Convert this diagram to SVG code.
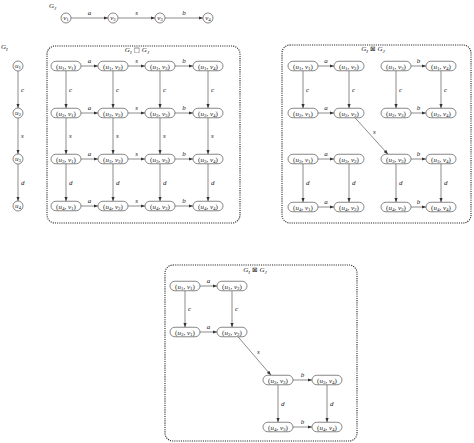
<svg xmlns="http://www.w3.org/2000/svg" width="474" height="443" viewBox="0 0 474 443">
<defs>
<marker id="ah" viewBox="0 0 8 6" refX="8" refY="3" markerWidth="4.5" markerHeight="3.4" markerUnits="userSpaceOnUse" orient="auto"><path d="M0,0 L8,3 L0,6 z" fill="#333"/></marker>
<style>
.n{fill:#fff;stroke:#555;stroke-width:0.7}
.t{font-family:"Liberation Serif","DejaVu Serif",serif;font-size:7px;fill:#222;text-anchor:middle}
.l{font-family:"Liberation Serif","DejaVu Serif",serif;font-size:7px;fill:#222;font-style:italic}
.lm{text-anchor:middle}
.i{font-style:italic}
.s{font-size:5px}
.sym{font-family:"DejaVu Sans",sans-serif;font-style:normal;font-size:6.5px}
.e{stroke:#666;stroke-width:0.75;fill:none;marker-end:url(#ah)}
.box{fill:none;stroke:#222;stroke-width:1.1;stroke-dasharray:1.1 1.1}
</style>
</defs>

<!-- titles / boxes -->
<g id="title-GJ"><text class="l" x="49" y="8">G<tspan class="s" dy="1.5">J</tspan></text></g>
<g id="title-GI"><text class="l" x="1" y="49">G<tspan class="s" dy="1.5">I</tspan></text></g>
<g id="box-cart"><rect class="box" x="47" y="46" width="193" height="177" rx="8"/><text class="t" x="137" y="52"><tspan class="i">G</tspan><tspan class="s i" dy="1.5">I</tspan><tspan class="sym" dy="-1.5"> □ </tspan><tspan class="i">G</tspan><tspan class="s i" dy="1.5">J</tspan></text></g>
<g id="box-strong"><rect class="box" x="282" y="45" width="189" height="178" rx="8"/><text class="t" x="373" y="51"><tspan class="i">G</tspan><tspan class="s i" dy="1.5">I</tspan><tspan class="sym" dy="-1.5"> ⊠ </tspan><tspan class="i">G</tspan><tspan class="s i" dy="1.5">J</tspan></text></g>
<g id="box-third"><rect class="box" x="165" y="265" width="192" height="176" rx="8"/><text class="t" x="255" y="272"><tspan class="i">G</tspan><tspan class="s i" dy="1.5">I</tspan><tspan class="sym" dy="-1.5"> ⊠ </tspan><tspan class="i">G</tspan><tspan class="s i" dy="1.5">J</tspan></text></g>

<!-- connectors -->
<g id="connectors">
<!-- GJ -->
<line class="e" x1="71" y1="18" x2="108" y2="18"/><line class="e" x1="118" y1="18" x2="155" y2="18"/><line class="e" x1="165" y1="18" x2="203" y2="18"/>
<text class="l lm" x="89.5" y="15">a</text><text class="l lm" x="136.5" y="15">s</text><text class="l lm" x="184" y="15">b</text>
<!-- GI -->
<line class="e" x1="18" y1="71" x2="18" y2="108"/><line class="e" x1="18" y1="118" x2="18" y2="154"/><line class="e" x1="18" y1="164" x2="18" y2="201"/>
<text class="l" x="21" y="91.5">c</text><text class="l" x="21" y="138">s</text><text class="l" x="21" y="184.5">d</text>
<!-- box 1 horizontal -->
<line class="e" x1="81" y1="66" x2="98" y2="66"/><line class="e" x1="128" y1="66" x2="145" y2="66"/><line class="e" x1="175" y1="66" x2="193" y2="66"/>
<line class="e" x1="81" y1="113" x2="98" y2="113"/><line class="e" x1="128" y1="113" x2="145" y2="113"/><line class="e" x1="175" y1="113" x2="193" y2="113"/>
<line class="e" x1="81" y1="159" x2="98" y2="159"/><line class="e" x1="128" y1="159" x2="145" y2="159"/><line class="e" x1="175" y1="159" x2="193" y2="159"/>
<line class="e" x1="81" y1="206" x2="98" y2="206"/><line class="e" x1="128" y1="206" x2="145" y2="206"/><line class="e" x1="175" y1="206" x2="193" y2="206"/>
<text class="l lm" x="89.5" y="63">a</text><text class="l lm" x="136.5" y="63">s</text><text class="l lm" x="184" y="63">b</text>
<text class="l lm" x="89.5" y="110">a</text><text class="l lm" x="136.5" y="110">s</text><text class="l lm" x="184" y="110">b</text>
<text class="l lm" x="89.5" y="156">a</text><text class="l lm" x="136.5" y="156">s</text><text class="l lm" x="184" y="156">b</text>
<text class="l lm" x="89.5" y="203">a</text><text class="l lm" x="136.5" y="203">s</text><text class="l lm" x="184" y="203">b</text>
<!-- box 1 vertical -->
<line class="e" x1="66" y1="70.75" x2="66" y2="108.25"/><line class="e" x1="66" y1="117.75" x2="66" y2="154.25"/><line class="e" x1="66" y1="163.75" x2="66" y2="201.25"/>
<line class="e" x1="113" y1="70.75" x2="113" y2="108.25"/><line class="e" x1="113" y1="117.75" x2="113" y2="154.25"/><line class="e" x1="113" y1="163.75" x2="113" y2="201.25"/>
<line class="e" x1="160" y1="70.75" x2="160" y2="108.25"/><line class="e" x1="160" y1="117.75" x2="160" y2="154.25"/><line class="e" x1="160" y1="163.75" x2="160" y2="201.25"/>
<line class="e" x1="208" y1="70.75" x2="208" y2="108.25"/><line class="e" x1="208" y1="117.75" x2="208" y2="154.25"/><line class="e" x1="208" y1="163.75" x2="208" y2="201.25"/>
<text class="l" x="69" y="91.5">c</text><text class="l" x="69" y="138">s</text><text class="l" x="69" y="184.5">d</text>
<text class="l" x="116" y="91.5">c</text><text class="l" x="116" y="138">s</text><text class="l" x="116" y="184.5">d</text>
<text class="l" x="163" y="91.5">c</text><text class="l" x="163" y="138">s</text><text class="l" x="163" y="184.5">d</text>
<text class="l" x="211" y="91.5">c</text><text class="l" x="211" y="138">s</text><text class="l" x="211" y="184.5">d</text>
<!-- box 2 -->
<line class="e" x1="318" y1="66" x2="334" y2="66"/><line class="e" x1="318" y1="113" x2="334" y2="113"/>
<line class="e" x1="318" y1="159" x2="334" y2="159"/><line class="e" x1="318" y1="207" x2="334" y2="207"/>
<line class="e" x1="411" y1="66" x2="426" y2="66"/><line class="e" x1="411" y1="113" x2="426" y2="113"/>
<line class="e" x1="411" y1="159" x2="426" y2="159"/><line class="e" x1="411" y1="207" x2="426" y2="207"/>
<text class="l lm" x="326" y="63">a</text><text class="l lm" x="326" y="110">a</text><text class="l lm" x="326" y="156">a</text><text class="l lm" x="326" y="204">a</text>
<text class="l lm" x="418.5" y="63">b</text><text class="l lm" x="418.5" y="110">b</text><text class="l lm" x="418.5" y="156">b</text><text class="l lm" x="418.5" y="204">b</text>
<line class="e" x1="303" y1="70.75" x2="303" y2="108.25"/><line class="e" x1="349" y1="70.75" x2="349" y2="108.25"/>
<line class="e" x1="396" y1="70.75" x2="396" y2="108.25"/><line class="e" x1="441" y1="70.75" x2="441" y2="108.25"/>
<line class="e" x1="303" y1="163.75" x2="303" y2="202.25"/><line class="e" x1="349" y1="163.75" x2="349" y2="202.25"/>
<line class="e" x1="396" y1="163.75" x2="396" y2="202.25"/><line class="e" x1="441" y1="163.75" x2="441" y2="202.25"/>
<text class="l" x="306" y="91.5">c</text><text class="l" x="352" y="91.5">c</text><text class="l" x="399" y="91.5">c</text><text class="l" x="444" y="91.5">c</text>
<text class="l" x="306" y="185">d</text><text class="l" x="352" y="185">d</text><text class="l" x="399" y="185">d</text><text class="l" x="444" y="185">d</text>
<line class="e" x1="355" y1="117.75" x2="388" y2="154.25"/>
<text class="l" x="373" y="134">s</text>
<!-- box 3 -->
<line class="e" x1="200" y1="286" x2="217" y2="286"/><line class="e" x1="200" y1="332" x2="217" y2="332"/>
<text class="l lm" x="208.5" y="283">a</text><text class="l lm" x="208.5" y="329">a</text>
<line class="e" x1="185" y1="290.75" x2="185" y2="327.25"/><line class="e" x1="232" y1="290.75" x2="232" y2="327.25"/>
<text class="l" x="188" y="311">c</text><text class="l" x="235" y="311">c</text>
<line class="e" x1="238" y1="336.75" x2="271" y2="375.25"/>
<text class="l" x="257" y="354">s</text>
<line class="e" x1="293" y1="380" x2="312" y2="380"/><line class="e" x1="293" y1="427" x2="312" y2="427"/>
<text class="l lm" x="302.5" y="377">b</text><text class="l lm" x="302.5" y="424">b</text>
<line class="e" x1="278" y1="384.75" x2="278" y2="422.25"/><line class="e" x1="327" y1="384.75" x2="327" y2="422.25"/>
<text class="l" x="281" y="405.5">d</text><text class="l" x="330" y="405.5">d</text>
</g>

<!-- GJ nodes -->
<g id="v1"><circle class="n" cx="66" cy="18" r="5"/><text class="t" x="66" y="20"><tspan class="i">v</tspan><tspan class="s" dy="1.2">1</tspan></text></g>
<g id="v2"><circle class="n" cx="113" cy="18" r="5"/><text class="t" x="113" y="20"><tspan class="i">v</tspan><tspan class="s" dy="1.2">2</tspan></text></g>
<g id="v3"><circle class="n" cx="160" cy="18" r="5"/><text class="t" x="160" y="20"><tspan class="i">v</tspan><tspan class="s" dy="1.2">3</tspan></text></g>
<g id="v4"><circle class="n" cx="208" cy="18" r="5"/><text class="t" x="208" y="20"><tspan class="i">v</tspan><tspan class="s" dy="1.2">4</tspan></text></g>
<!-- GI nodes -->
<g id="u1"><circle class="n" cx="18" cy="66" r="5"/><text class="t" x="18" y="68"><tspan class="i">u</tspan><tspan class="s" dy="1.2">1</tspan></text></g>
<g id="u2"><circle class="n" cx="18" cy="113" r="5"/><text class="t" x="18" y="115"><tspan class="i">u</tspan><tspan class="s" dy="1.2">2</tspan></text></g>
<g id="u3"><circle class="n" cx="18" cy="159" r="5"/><text class="t" x="18" y="161"><tspan class="i">u</tspan><tspan class="s" dy="1.2">3</tspan></text></g>
<g id="u4"><circle class="n" cx="18" cy="206" r="5"/><text class="t" x="18" y="208"><tspan class="i">u</tspan><tspan class="s" dy="1.2">4</tspan></text></g>

<!-- box 1 nodes -->
<g id="c-u1v1"><rect class="n" x="51" y="61.25" width="30" height="9.5" rx="4.75"/><text class="t" x="66" y="68.5">(<tspan class="i">u</tspan><tspan class="s" dy="1.5">1</tspan><tspan dy="-1.5">, </tspan><tspan class="i">v</tspan><tspan class="s" dy="1.5">1</tspan><tspan dy="-1.5">)</tspan></text></g>
<g id="c-u1v2"><rect class="n" x="98" y="61.25" width="30" height="9.5" rx="4.75"/><text class="t" x="113" y="68.5">(<tspan class="i">u</tspan><tspan class="s" dy="1.5">1</tspan><tspan dy="-1.5">, </tspan><tspan class="i">v</tspan><tspan class="s" dy="1.5">2</tspan><tspan dy="-1.5">)</tspan></text></g>
<g id="c-u1v3"><rect class="n" x="145" y="61.25" width="30" height="9.5" rx="4.75"/><text class="t" x="160" y="68.5">(<tspan class="i">u</tspan><tspan class="s" dy="1.5">1</tspan><tspan dy="-1.5">, </tspan><tspan class="i">v</tspan><tspan class="s" dy="1.5">3</tspan><tspan dy="-1.5">)</tspan></text></g>
<g id="c-u1v4"><rect class="n" x="193" y="61.25" width="30" height="9.5" rx="4.75"/><text class="t" x="208" y="68.5">(<tspan class="i">u</tspan><tspan class="s" dy="1.5">1</tspan><tspan dy="-1.5">, </tspan><tspan class="i">v</tspan><tspan class="s" dy="1.5">4</tspan><tspan dy="-1.5">)</tspan></text></g>
<g id="c-u2v1"><rect class="n" x="51" y="108.25" width="30" height="9.5" rx="4.75"/><text class="t" x="66" y="115.5">(<tspan class="i">u</tspan><tspan class="s" dy="1.5">2</tspan><tspan dy="-1.5">, </tspan><tspan class="i">v</tspan><tspan class="s" dy="1.5">1</tspan><tspan dy="-1.5">)</tspan></text></g>
<g id="c-u2v2"><rect class="n" x="98" y="108.25" width="30" height="9.5" rx="4.75"/><text class="t" x="113" y="115.5">(<tspan class="i">u</tspan><tspan class="s" dy="1.5">2</tspan><tspan dy="-1.5">, </tspan><tspan class="i">v</tspan><tspan class="s" dy="1.5">2</tspan><tspan dy="-1.5">)</tspan></text></g>
<g id="c-u2v3"><rect class="n" x="145" y="108.25" width="30" height="9.5" rx="4.75"/><text class="t" x="160" y="115.5">(<tspan class="i">u</tspan><tspan class="s" dy="1.5">2</tspan><tspan dy="-1.5">, </tspan><tspan class="i">v</tspan><tspan class="s" dy="1.5">3</tspan><tspan dy="-1.5">)</tspan></text></g>
<g id="c-u2v4"><rect class="n" x="193" y="108.25" width="30" height="9.5" rx="4.75"/><text class="t" x="208" y="115.5">(<tspan class="i">u</tspan><tspan class="s" dy="1.5">2</tspan><tspan dy="-1.5">, </tspan><tspan class="i">v</tspan><tspan class="s" dy="1.5">4</tspan><tspan dy="-1.5">)</tspan></text></g>
<g id="c-u3v1"><rect class="n" x="51" y="154.25" width="30" height="9.5" rx="4.75"/><text class="t" x="66" y="161.5">(<tspan class="i">u</tspan><tspan class="s" dy="1.5">3</tspan><tspan dy="-1.5">, </tspan><tspan class="i">v</tspan><tspan class="s" dy="1.5">1</tspan><tspan dy="-1.5">)</tspan></text></g>
<g id="c-u3v2"><rect class="n" x="98" y="154.25" width="30" height="9.5" rx="4.75"/><text class="t" x="113" y="161.5">(<tspan class="i">u</tspan><tspan class="s" dy="1.5">3</tspan><tspan dy="-1.5">, </tspan><tspan class="i">v</tspan><tspan class="s" dy="1.5">2</tspan><tspan dy="-1.5">)</tspan></text></g>
<g id="c-u3v3"><rect class="n" x="145" y="154.25" width="30" height="9.5" rx="4.75"/><text class="t" x="160" y="161.5">(<tspan class="i">u</tspan><tspan class="s" dy="1.5">3</tspan><tspan dy="-1.5">, </tspan><tspan class="i">v</tspan><tspan class="s" dy="1.5">3</tspan><tspan dy="-1.5">)</tspan></text></g>
<g id="c-u3v4"><rect class="n" x="193" y="154.25" width="30" height="9.5" rx="4.75"/><text class="t" x="208" y="161.5">(<tspan class="i">u</tspan><tspan class="s" dy="1.5">3</tspan><tspan dy="-1.5">, </tspan><tspan class="i">v</tspan><tspan class="s" dy="1.5">4</tspan><tspan dy="-1.5">)</tspan></text></g>
<g id="c-u4v1"><rect class="n" x="51" y="201.25" width="30" height="9.5" rx="4.75"/><text class="t" x="66" y="208.5">(<tspan class="i">u</tspan><tspan class="s" dy="1.5">4</tspan><tspan dy="-1.5">, </tspan><tspan class="i">v</tspan><tspan class="s" dy="1.5">1</tspan><tspan dy="-1.5">)</tspan></text></g>
<g id="c-u4v2"><rect class="n" x="98" y="201.25" width="30" height="9.5" rx="4.75"/><text class="t" x="113" y="208.5">(<tspan class="i">u</tspan><tspan class="s" dy="1.5">4</tspan><tspan dy="-1.5">, </tspan><tspan class="i">v</tspan><tspan class="s" dy="1.5">2</tspan><tspan dy="-1.5">)</tspan></text></g>
<g id="c-u4v3"><rect class="n" x="145" y="201.25" width="30" height="9.5" rx="4.75"/><text class="t" x="160" y="208.5">(<tspan class="i">u</tspan><tspan class="s" dy="1.5">4</tspan><tspan dy="-1.5">, </tspan><tspan class="i">v</tspan><tspan class="s" dy="1.5">3</tspan><tspan dy="-1.5">)</tspan></text></g>
<g id="c-u4v4"><rect class="n" x="193" y="201.25" width="30" height="9.5" rx="4.75"/><text class="t" x="208" y="208.5">(<tspan class="i">u</tspan><tspan class="s" dy="1.5">4</tspan><tspan dy="-1.5">, </tspan><tspan class="i">v</tspan><tspan class="s" dy="1.5">4</tspan><tspan dy="-1.5">)</tspan></text></g>

<!-- box 2 nodes -->
<g id="s-u1v1"><rect class="n" x="288" y="61.25" width="30" height="9.5" rx="4.75"/><text class="t" x="303" y="68.5">(<tspan class="i">u</tspan><tspan class="s" dy="1.5">1</tspan><tspan dy="-1.5">, </tspan><tspan class="i">v</tspan><tspan class="s" dy="1.5">1</tspan><tspan dy="-1.5">)</tspan></text></g>
<g id="s-u1v2"><rect class="n" x="334" y="61.25" width="30" height="9.5" rx="4.75"/><text class="t" x="349" y="68.5">(<tspan class="i">u</tspan><tspan class="s" dy="1.5">1</tspan><tspan dy="-1.5">, </tspan><tspan class="i">v</tspan><tspan class="s" dy="1.5">2</tspan><tspan dy="-1.5">)</tspan></text></g>
<g id="s-u1v3"><rect class="n" x="381" y="61.25" width="30" height="9.5" rx="4.75"/><text class="t" x="396" y="68.5">(<tspan class="i">u</tspan><tspan class="s" dy="1.5">1</tspan><tspan dy="-1.5">, </tspan><tspan class="i">v</tspan><tspan class="s" dy="1.5">3</tspan><tspan dy="-1.5">)</tspan></text></g>
<g id="s-u1v4"><rect class="n" x="426" y="61.25" width="30" height="9.5" rx="4.75"/><text class="t" x="441" y="68.5">(<tspan class="i">u</tspan><tspan class="s" dy="1.5">1</tspan><tspan dy="-1.5">, </tspan><tspan class="i">v</tspan><tspan class="s" dy="1.5">4</tspan><tspan dy="-1.5">)</tspan></text></g>
<g id="s-u2v1"><rect class="n" x="288" y="108.25" width="30" height="9.5" rx="4.75"/><text class="t" x="303" y="115.5">(<tspan class="i">u</tspan><tspan class="s" dy="1.5">2</tspan><tspan dy="-1.5">, </tspan><tspan class="i">v</tspan><tspan class="s" dy="1.5">1</tspan><tspan dy="-1.5">)</tspan></text></g>
<g id="s-u2v2"><rect class="n" x="334" y="108.25" width="30" height="9.5" rx="4.75"/><text class="t" x="349" y="115.5">(<tspan class="i">u</tspan><tspan class="s" dy="1.5">2</tspan><tspan dy="-1.5">, </tspan><tspan class="i">v</tspan><tspan class="s" dy="1.5">2</tspan><tspan dy="-1.5">)</tspan></text></g>
<g id="s-u2v3"><rect class="n" x="381" y="108.25" width="30" height="9.5" rx="4.75"/><text class="t" x="396" y="115.5">(<tspan class="i">u</tspan><tspan class="s" dy="1.5">2</tspan><tspan dy="-1.5">, </tspan><tspan class="i">v</tspan><tspan class="s" dy="1.5">3</tspan><tspan dy="-1.5">)</tspan></text></g>
<g id="s-u2v4"><rect class="n" x="426" y="108.25" width="30" height="9.5" rx="4.75"/><text class="t" x="441" y="115.5">(<tspan class="i">u</tspan><tspan class="s" dy="1.5">2</tspan><tspan dy="-1.5">, </tspan><tspan class="i">v</tspan><tspan class="s" dy="1.5">4</tspan><tspan dy="-1.5">)</tspan></text></g>
<g id="s-u3v1"><rect class="n" x="288" y="154.25" width="30" height="9.5" rx="4.75"/><text class="t" x="303" y="161.5">(<tspan class="i">u</tspan><tspan class="s" dy="1.5">3</tspan><tspan dy="-1.5">, </tspan><tspan class="i">v</tspan><tspan class="s" dy="1.5">1</tspan><tspan dy="-1.5">)</tspan></text></g>
<g id="s-u3v2"><rect class="n" x="334" y="154.25" width="30" height="9.5" rx="4.75"/><text class="t" x="349" y="161.5">(<tspan class="i">u</tspan><tspan class="s" dy="1.5">3</tspan><tspan dy="-1.5">, </tspan><tspan class="i">v</tspan><tspan class="s" dy="1.5">2</tspan><tspan dy="-1.5">)</tspan></text></g>
<g id="s-u3v3"><rect class="n" x="381" y="154.25" width="30" height="9.5" rx="4.75"/><text class="t" x="396" y="161.5">(<tspan class="i">u</tspan><tspan class="s" dy="1.5">3</tspan><tspan dy="-1.5">, </tspan><tspan class="i">v</tspan><tspan class="s" dy="1.5">3</tspan><tspan dy="-1.5">)</tspan></text></g>
<g id="s-u3v4"><rect class="n" x="426" y="154.25" width="30" height="9.5" rx="4.75"/><text class="t" x="441" y="161.5">(<tspan class="i">u</tspan><tspan class="s" dy="1.5">3</tspan><tspan dy="-1.5">, </tspan><tspan class="i">v</tspan><tspan class="s" dy="1.5">4</tspan><tspan dy="-1.5">)</tspan></text></g>
<g id="s-u4v1"><rect class="n" x="288" y="202.25" width="30" height="9.5" rx="4.75"/><text class="t" x="303" y="209.5">(<tspan class="i">u</tspan><tspan class="s" dy="1.5">4</tspan><tspan dy="-1.5">, </tspan><tspan class="i">v</tspan><tspan class="s" dy="1.5">1</tspan><tspan dy="-1.5">)</tspan></text></g>
<g id="s-u4v2"><rect class="n" x="334" y="202.25" width="30" height="9.5" rx="4.75"/><text class="t" x="349" y="209.5">(<tspan class="i">u</tspan><tspan class="s" dy="1.5">4</tspan><tspan dy="-1.5">, </tspan><tspan class="i">v</tspan><tspan class="s" dy="1.5">2</tspan><tspan dy="-1.5">)</tspan></text></g>
<g id="s-u4v3"><rect class="n" x="381" y="202.25" width="30" height="9.5" rx="4.75"/><text class="t" x="396" y="209.5">(<tspan class="i">u</tspan><tspan class="s" dy="1.5">4</tspan><tspan dy="-1.5">, </tspan><tspan class="i">v</tspan><tspan class="s" dy="1.5">3</tspan><tspan dy="-1.5">)</tspan></text></g>
<g id="s-u4v4"><rect class="n" x="426" y="202.25" width="30" height="9.5" rx="4.75"/><text class="t" x="441" y="209.5">(<tspan class="i">u</tspan><tspan class="s" dy="1.5">4</tspan><tspan dy="-1.5">, </tspan><tspan class="i">v</tspan><tspan class="s" dy="1.5">4</tspan><tspan dy="-1.5">)</tspan></text></g>

<!-- box 3 nodes -->
<g id="t-u1v1"><rect class="n" x="170" y="281.25" width="30" height="9.5" rx="4.75"/><text class="t" x="185" y="288.5">(<tspan class="i">u</tspan><tspan class="s" dy="1.5">1</tspan><tspan dy="-1.5">, </tspan><tspan class="i">v</tspan><tspan class="s" dy="1.5">1</tspan><tspan dy="-1.5">)</tspan></text></g>
<g id="t-u1v2"><rect class="n" x="217" y="281.25" width="30" height="9.5" rx="4.75"/><text class="t" x="232" y="288.5">(<tspan class="i">u</tspan><tspan class="s" dy="1.5">1</tspan><tspan dy="-1.5">, </tspan><tspan class="i">v</tspan><tspan class="s" dy="1.5">2</tspan><tspan dy="-1.5">)</tspan></text></g>
<g id="t-u2v1"><rect class="n" x="170" y="327.25" width="30" height="9.5" rx="4.75"/><text class="t" x="185" y="334.5">(<tspan class="i">u</tspan><tspan class="s" dy="1.5">2</tspan><tspan dy="-1.5">, </tspan><tspan class="i">v</tspan><tspan class="s" dy="1.5">1</tspan><tspan dy="-1.5">)</tspan></text></g>
<g id="t-u2v2"><rect class="n" x="217" y="327.25" width="30" height="9.5" rx="4.75"/><text class="t" x="232" y="334.5">(<tspan class="i">u</tspan><tspan class="s" dy="1.5">2</tspan><tspan dy="-1.5">, </tspan><tspan class="i">v</tspan><tspan class="s" dy="1.5">2</tspan><tspan dy="-1.5">)</tspan></text></g>
<g id="t-u3v3"><rect class="n" x="263" y="375.25" width="30" height="9.5" rx="4.75"/><text class="t" x="278" y="382.5">(<tspan class="i">u</tspan><tspan class="s" dy="1.5">3</tspan><tspan dy="-1.5">, </tspan><tspan class="i">v</tspan><tspan class="s" dy="1.5">3</tspan><tspan dy="-1.5">)</tspan></text></g>
<g id="t-u3v4"><rect class="n" x="312" y="375.25" width="30" height="9.5" rx="4.75"/><text class="t" x="327" y="382.5">(<tspan class="i">u</tspan><tspan class="s" dy="1.5">3</tspan><tspan dy="-1.5">, </tspan><tspan class="i">v</tspan><tspan class="s" dy="1.5">4</tspan><tspan dy="-1.5">)</tspan></text></g>
<g id="t-u4v3"><rect class="n" x="263" y="422.25" width="30" height="9.5" rx="4.75"/><text class="t" x="278" y="429.5">(<tspan class="i">u</tspan><tspan class="s" dy="1.5">4</tspan><tspan dy="-1.5">, </tspan><tspan class="i">v</tspan><tspan class="s" dy="1.5">3</tspan><tspan dy="-1.5">)</tspan></text></g>
<g id="t-u4v4"><rect class="n" x="312" y="422.25" width="30" height="9.5" rx="4.75"/><text class="t" x="327" y="429.5">(<tspan class="i">u</tspan><tspan class="s" dy="1.5">4</tspan><tspan dy="-1.5">, </tspan><tspan class="i">v</tspan><tspan class="s" dy="1.5">4</tspan><tspan dy="-1.5">)</tspan></text></g>
</svg>
